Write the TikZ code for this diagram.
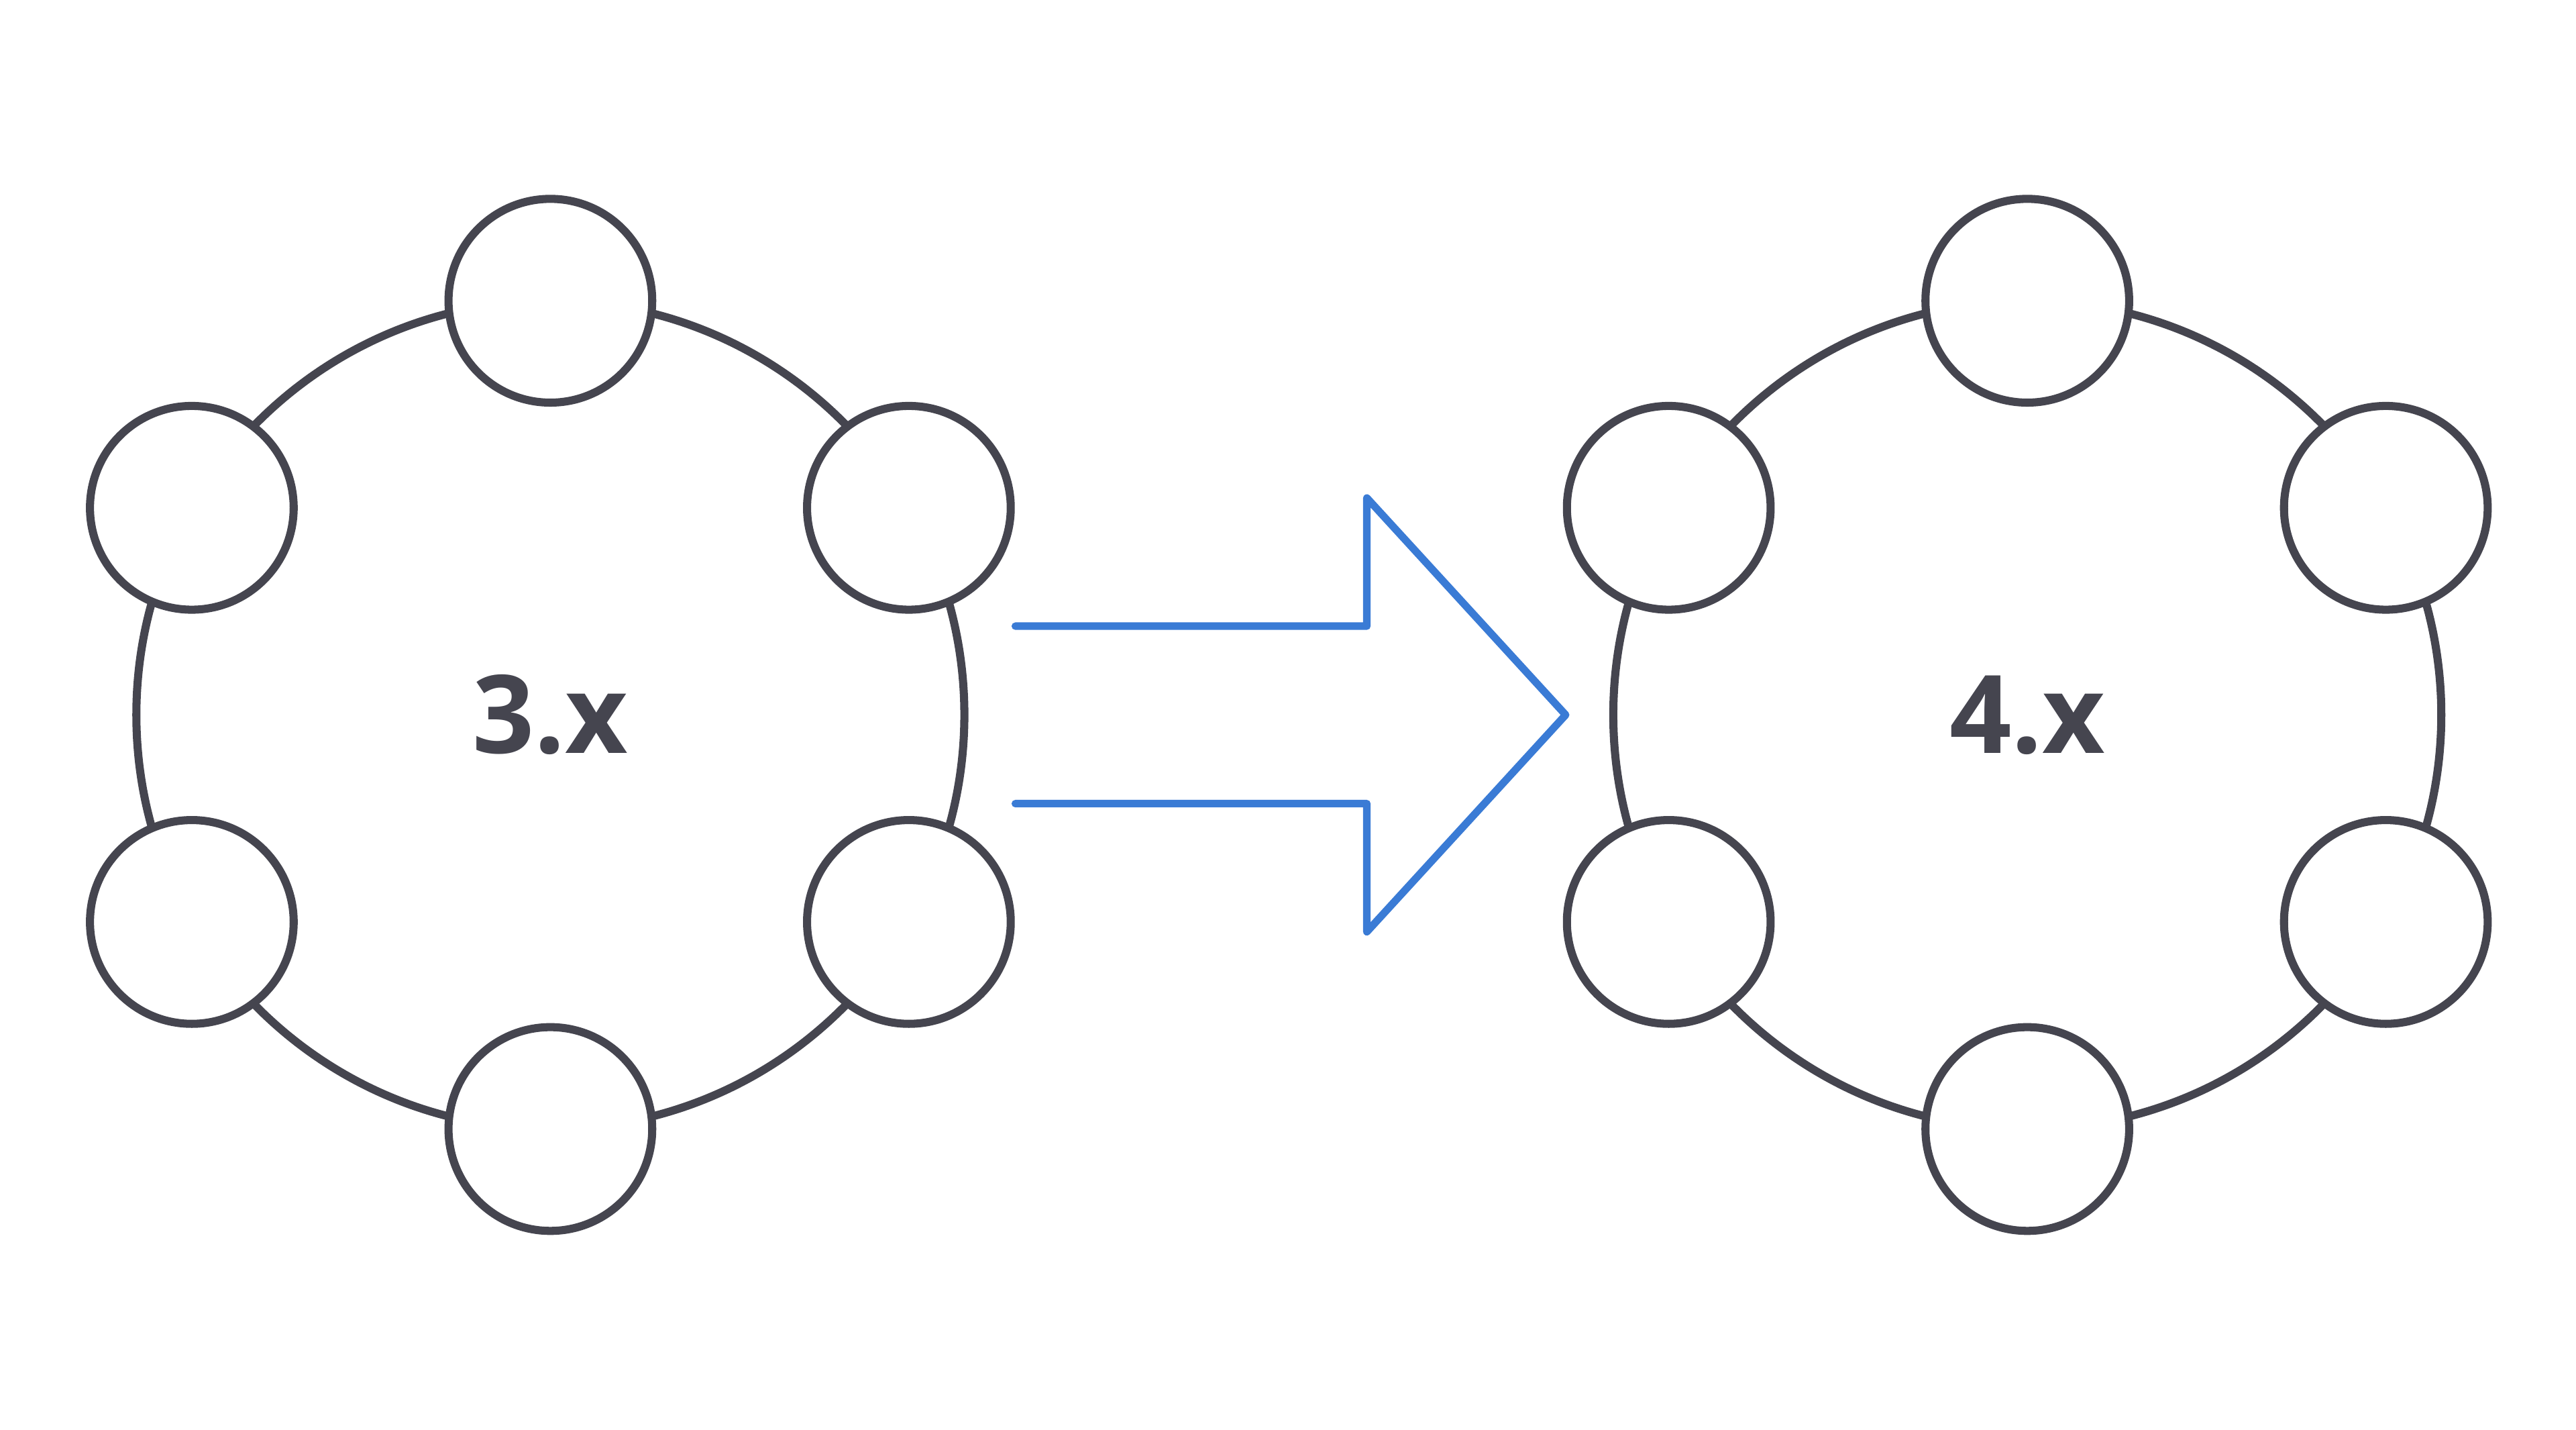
\documentclass[tikz,border=0pt]{standalone}
\usepackage{fontspec}
\setmainfont{Open Sans}
\usetikzlibrary{calc}
\begin{document}
\begin{tikzpicture}[x=0.05cm,y=-0.05cm,
  ring/.style={draw=ringgray,line width=7pt},
  small/.style={circle,draw=ringgray,line width=7pt,fill=white,minimum size=6.2cm,inner sep=0pt},
  lbl/.style={text=ringgray,font=\bfseries\fontsize{94}{96}\selectfont},
  bigarrow/.style={draw=arrowblue,line width=6.5pt,line join=round,line cap=round}]
\definecolor{ringgray}{HTML}{45454F}
\definecolor{arrowblue}{HTML}{3A7BD5}
\useasboundingbox (0,0) rectangle (1568,870);
\foreach \cx/\nm/\t in {335/L/3.x,1234/R/4.x}{
  \draw[ring] (\cx,435) circle (252);
  \foreach \a in {90,30,-30,-90,210,150}{
    \node[small] (\nm\a) at ($(\cx,435)+(\a:252 and -252)$) {};
  }
  \node[lbl] (t\nm) at (\cx,435) {\t};
}
\coordinate (a1) at (618,381);
\coordinate (a2) at (832,381);
\coordinate (a3) at (832,303);
\coordinate (a4) at (953,435);
\coordinate (a5) at (832,567);
\coordinate (a6) at (832,489);
\coordinate (a7) at (618,489);
\draw[bigarrow] (a1) -- (a2) -- (a3) -- (a4) -- (a5) -- (a6) -- (a7);
\end{tikzpicture}
\end{document}
